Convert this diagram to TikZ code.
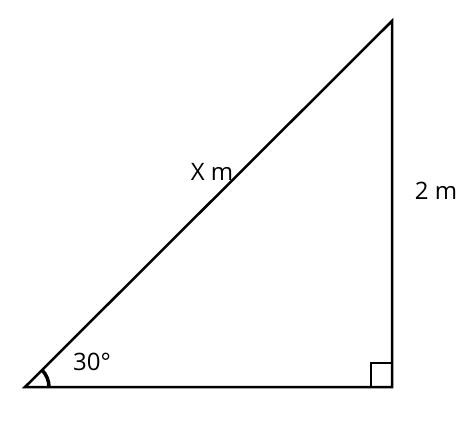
\documentclass[tikz,border=0pt]{standalone}
\usepackage{fontspec}
\setmainfont{Open Sans}
\begin{document}
\begin{tikzpicture}[x=1pt,y=-1pt,
  edge/.style={line width=2.5pt},
  lbl/.style={font=\fontsize{24}{28}\selectfont, inner sep=0pt}]
\useasboundingbox (0,0) rectangle (474,432);
\coordinate (A) at (25,387);
\coordinate (B) at (392,387);
\coordinate (C) at (392,21);
\draw[edge, line join=miter] (A) -- (B) -- (C) -- cycle;
\draw[edge] (371,387) -- (371,363) -- (392,363);
\draw[line width=3.5pt] ([xshift=24pt]A) arc[start angle=0, end angle=45, radius=24pt];
\node[lbl] (ang) at (92,362) {30°};
\node[lbl] (hyp) at (212,172) {X m};
\node[lbl] (side) at (436,191) {2 m};
\end{tikzpicture}
\end{document}
